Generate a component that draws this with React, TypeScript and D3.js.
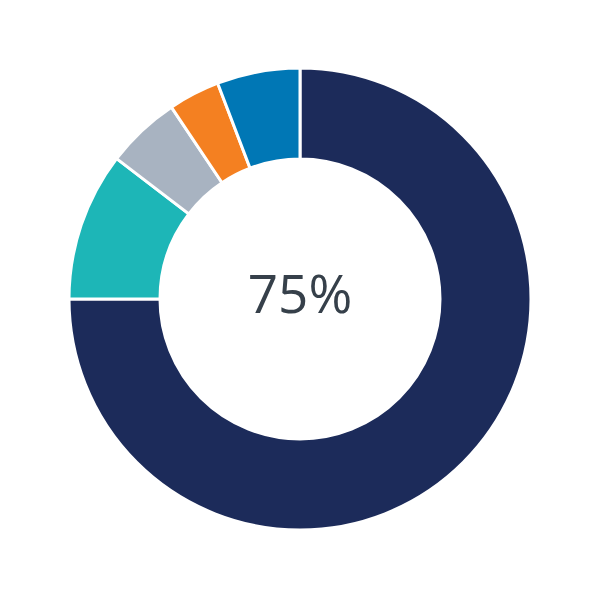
import React from "react";
import * as d3 from "d3";

const labels = ["Main", "Teal", "Gray", "Orange", "Blue"];
const values = [75, 10.4, 5.2, 3.6, 5.8];
const colors = ["#1c2b5a", "#1db6b7", "#a8b3c1", "#f48021", "#0077b5"];
const centerLabel = "75%";

export default function App() {
  const width = 600;
  const height = 599;
  const cx = 300;
  const cy = 299;
  const outer = 231;
  const inner = 140;

  const pie = d3
    .pie<number>()
    .sort(null)
    .value((d) => d);
  const arc = d3.arc<d3.PieArcDatum<number>>().innerRadius(inner).outerRadius(outer);
  const arcs = pie(values);

  return (
    <svg
      width={width}
      height={height}
      style={{position: "absolute", left: 0, top: 0, background: "#fff"}}
    >
      <g transform={`translate(${cx},${cy})`}>
        {arcs.map((a, i) => (
          <path
            key={labels[i]}
            d={arc(a) || ""}
            fill={colors[i]}
            stroke="#fff"
            strokeWidth={3}
          />
        ))}
        <text
          x={0}
          y={14}
          textAnchor="middle"
          fill="#36404a"
          style={{fontFamily: "'Open Sans', sans-serif", fontSize: 53}}
        >
          {centerLabel}
        </text>
      </g>
    </svg>
  );
}
